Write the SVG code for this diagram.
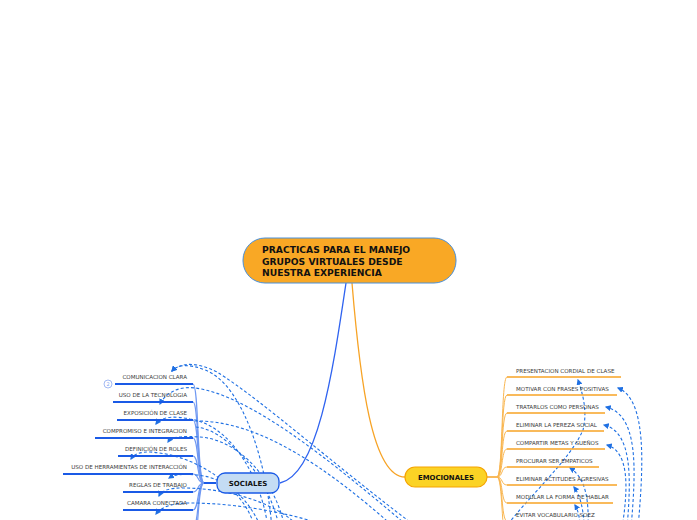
<svg xmlns="http://www.w3.org/2000/svg" width="697" height="520" viewBox="0 0 697 520">
<style>
.t{font-family:"DejaVu Sans",Verdana,sans-serif;font-size:5.55px;fill:#3a3a3a}
.b{font-family:"DejaVu Sans",Verdana,sans-serif;font-weight:bold;fill:#111}
.bl{stroke:#1a5ae6;stroke-width:2;fill:none}
.ol{stroke:#f7a325;stroke-width:1.5;fill:none}
.bb{stroke:#6f98f2;stroke-width:1.2;fill:none}
.ob{stroke:#f9b650;stroke-width:1;fill:none}
.d{stroke:#1f70e3;stroke-width:1.1;fill:none;stroke-dasharray:3 2.2;marker-end:url(#ar)}
.dn{stroke:#1f70e3;stroke-width:1.1;fill:none;stroke-dasharray:3 2.2}
</style>
<defs>
<marker id="ar" viewBox="0 0 10 10" refX="8" refY="5" markerWidth="6" markerHeight="6" markerUnits="userSpaceOnUse" orient="auto">
<path d="M0,0 L10,5 L0,10 z" fill="#1f70e3"/>
</marker>
</defs>
<rect width="697" height="520" fill="#fff"/>
<g id="connectors">
<path d="M346,283 C333,370 318,475 280,483" stroke="#2f63f0" stroke-width="1.3" fill="none"/>
<path d="M352,283 C360,380 372,477 405,477" stroke="#f7a325" stroke-width="1.3" fill="none"/>
<path d="M216,483 L204,483" class="bl"/>
<path d="M204,483 C197,483 199,384 193,384" class="bb"/>
<path d="M204,483 C197,483 199,402 193,402" class="bb"/>
<path d="M204,483 C197,483 199,420 193,420" class="bb"/>
<path d="M204,483 C197,483 199,438 193,438" class="bb"/>
<path d="M204,483 C197,483 199,456 193,456" class="bb"/>
<path d="M204,483 C197,483 199,474 193,474" class="bb"/>
<path d="M204,483 C197,483 199,492 193,492" class="bb"/>
<path d="M204,483 C197,483 199,510 193,510" class="bb"/>
<path d="M204,483 C197,483 199,528 193,528" class="bb"/>
<path d="M204,483 C197,483 199,546 193,546" class="bb"/>
<path d="M487,477 L497,477" class="ol"/>
<path d="M497,477 C503,477 501,377 507,377" class="ob"/>
<path d="M497,477 C503,477 501,395 507,395" class="ob"/>
<path d="M497,477 C503,477 501,413 507,413" class="ob"/>
<path d="M497,477 C503,477 501,431 507,431" class="ob"/>
<path d="M497,477 C503,477 501,449 507,449" class="ob"/>
<path d="M497,477 C503,477 501,467 507,467" class="ob"/>
<path d="M497,477 C503,477 501,485 507,485" class="ob"/>
<path d="M497,477 C503,477 501,503 507,503" class="ob"/>
<path d="M497,477 C503,477 501,521 507,521" class="ob"/>
<path d="M497,477 C503,477 501,539 507,539" class="ob"/>
<path d="M272,530 C268,470 245,385 205,370 C190,364 178,364 172,371" class="d"/>
<path d="M418,528 C340,470 262,400 217,372 C197,362 181,362 172,371" class="d"/>
<path d="M410,528 C330,460 250,395 195,388 C180,386 166,392 160,404" class="d"/>
<path d="M268,528 C262,480 232,425 190,419 C175,416 162,416 156,424" class="d"/>
<path d="M285,528 C275,480 240,440 200,437 C185,436 172,436 168,442" class="d"/>
<path d="M255,528 C245,490 200,455 150,452 C140,452 134,454 131,459" class="d"/>
<path d="M262,530 C250,500 228,478 197,475 C183,474 175,474 169,478" class="d"/>
<path d="M300,528 C280,505 232,488 182,488 C170,488 162,490 159,496" class="d"/>
<path d="M332,528 C300,515 240,503 190,503 C175,503 162,506 156,514" class="d"/>
<path d="M395,528 C330,470 260,420 195,421" class="dn"/>
<path d="M280,528 C272,500 262,470 225,440 C215,432 205,428 196,427" class="dn"/>
<path d="M505,528 C530,495 570,460 583,430 C588,410 582,392 578,380" class="d"/>
<path d="M638,528 C643,470 648,400 618,388" class="d"/>
<path d="M631,528 C636,470 639,415 606,407" class="d"/>
<path d="M627,528 C631,480 633,432 604,425" class="d"/>
<path d="M622,528 C628,490 630,452 607,445" class="d"/>
<path d="M588,528 C589,500 586,478 570,468" class="d"/>
<path d="M584,528 C584,510 580,495 574,487" class="d"/>
<path d="M580,528 C580,518 578,510 575,505" class="d"/>
</g>
<g id="central">
<rect x="243" y="238" width="213" height="45" rx="22" fill="#f9a825" stroke="#4a90d9" stroke-width="1"/>
<text class="b" font-size="9.2" x="262" y="253">PRACTICAS PARA EL MANEJO</text>
<text class="b" font-size="9.2" x="262" y="264.5">GRUPOS VIRTUALES DESDE</text>
<text class="b" font-size="9.2" x="262" y="276">NUESTRA EXPERIENCIA</text>
</g>
<g id="sociales">
<rect x="217" y="473" width="62" height="20" rx="8" fill="#c4dcf4" stroke="#1a5ae6" stroke-width="1.3"/>
<text class="b" font-size="7" x="248" y="486" text-anchor="middle">SOCIALES</text>
</g>
<g id="emocionales">
<rect x="405" y="467" width="82" height="20" rx="10" fill="#fbd325" stroke="#f5a400" stroke-width="1.2"/>
<text class="b" font-size="6.9" x="446" y="480" text-anchor="middle">EMOCIONALES</text>
</g>
<g id="s1"><line x1="115" y1="384" x2="193" y2="384" class="bl"/><text class="t" x="187" y="379" text-anchor="end">COMUNICACION CLARA</text>
<circle cx="108" cy="384" r="4" fill="#fff" stroke="#8aa8f0" stroke-width="0.8"/><text x="108" y="386" font-family="DejaVu Sans,sans-serif" font-size="5" fill="#8aa8f0" text-anchor="middle">2</text></g>
<g id="s2"><line x1="113" y1="402" x2="193" y2="402" class="bl"/><text class="t" x="187" y="397" text-anchor="end">USO DE LA TECNOLOGIA</text></g>
<g id="s3"><line x1="117" y1="420" x2="193" y2="420" class="bl"/><text class="t" x="187" y="415" text-anchor="end">EXPOSICIÓN DE CLASE</text></g>
<g id="s4"><line x1="95" y1="438" x2="193" y2="438" class="bl"/><text class="t" x="187" y="433" text-anchor="end">COMPROMISO E INTEGRACION</text></g>
<g id="s5"><line x1="118" y1="456" x2="193" y2="456" class="bl"/><text class="t" x="187" y="451" text-anchor="end">DEFINICIÓN DE ROLES</text></g>
<g id="s6"><line x1="63" y1="474" x2="193" y2="474" class="bl"/><text class="t" x="187" y="469" text-anchor="end">USO DE HERRAMIENTAS DE INTERACCIÓN</text></g>
<g id="s7"><line x1="123" y1="492" x2="193" y2="492" class="bl"/><text class="t" x="187" y="487" text-anchor="end">REGLAS DE TRABAJO</text></g>
<g id="s8"><line x1="123" y1="510" x2="193" y2="510" class="bl"/><text class="t" x="187" y="505" text-anchor="end">CAMARA CONECTADA</text></g>
<g id="e1"><line x1="507" y1="377" x2="621" y2="377" class="ol"/><text class="t" x="516" y="373">PRESENTACION CORDIAL DE CLASE</text></g>
<g id="e2"><line x1="507" y1="395" x2="617" y2="395" class="ol"/><text class="t" x="516" y="391">MOTIVAR CON FRASES POSITIVAS</text></g>
<g id="e3"><line x1="507" y1="413" x2="605" y2="413" class="ol"/><text class="t" x="516" y="409">TRATARLOS COMO PERSONAS</text></g>
<g id="e4"><line x1="507" y1="431" x2="604" y2="431" class="ol"/><text class="t" x="516" y="427">ELIMINAR LA PEREZA SOCIAL</text></g>
<g id="e5"><line x1="507" y1="449" x2="605" y2="449" class="ol"/><text class="t" x="516" y="445">COMPARTIR METAS Y SUEÑOS</text></g>
<g id="e6"><line x1="507" y1="467" x2="599" y2="467" class="ol"/><text class="t" x="516" y="463">PROCURAR SER EMPATICOS</text></g>
<g id="e7"><line x1="507" y1="485" x2="617" y2="485" class="ol"/><text class="t" x="516" y="481">ELIMINAR ACTITUDES AGRESIVAS</text></g>
<g id="e8"><line x1="507" y1="503" x2="613" y2="503" class="ol"/><text class="t" x="516" y="499">MODULAR LA FORMA DE HABLAR</text></g>
<g id="e9"><line x1="507" y1="521" x2="600" y2="521" class="ol"/><text class="t" x="516" y="517">EVITAR VOCABULARIO SOEZ</text></g>
</svg>
